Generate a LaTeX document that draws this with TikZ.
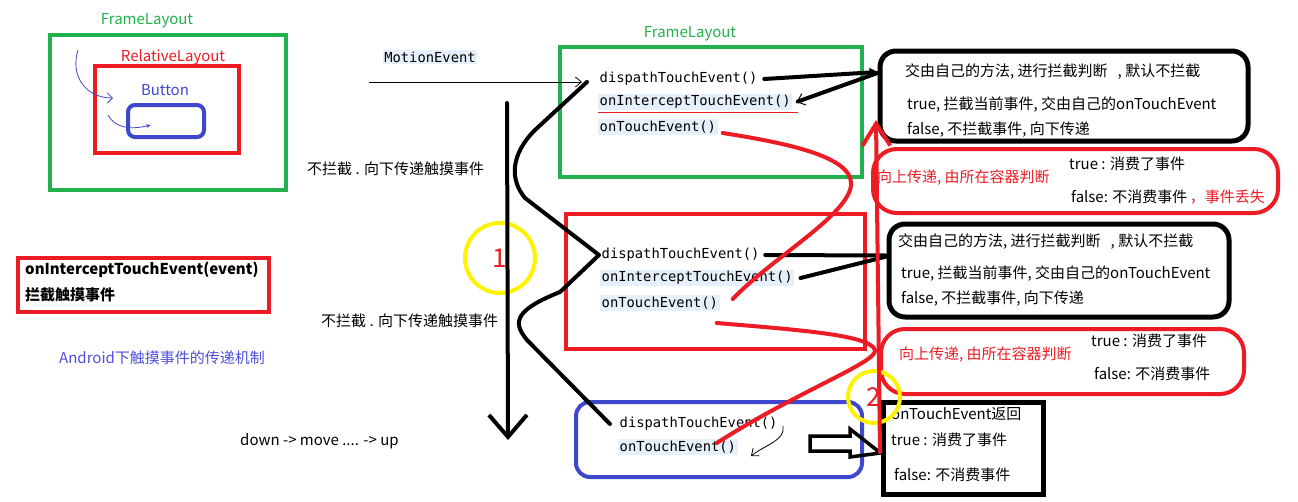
\documentclass[tikz,border=0pt]{standalone}
\usepackage{fontspec}
\setmainfont{Noto Sans CJK SC}
\setmonofont{DejaVu Sans Mono}
\usetikzlibrary{arrows.meta}

\definecolor{paintgreen}{HTML}{22B14C}
\definecolor{paintred}{HTML}{ED1C24}
\definecolor{paintblue}{HTML}{3F48CC}
\definecolor{paintyellow}{HTML}{FFF200}
\definecolor{codebg}{HTML}{E5F0FB}
\definecolor{textblue}{HTML}{5050DD}

\begin{document}
\begin{tikzpicture}[
  x=1pt, y=-1pt,
  frame/.style={draw, line width=4pt, inner sep=0pt},
  code/.style={font=\ttfamily\fontsize{13.8}{16}\selectfont, anchor=west, inner sep=1.5pt},
  hl/.style={code, fill=codebg},
  note/.style={font=\fontsize{15}{17}\selectfont, anchor=west, inner sep=0pt},
  tag/.style={font=\fontsize{15}{17}\selectfont, inner sep=0pt},
  pen/.style={line width=4pt, line cap=round, line join=round},
  redpen/.style={pen, draw=paintred},
  scrib/.style={line width=0.8pt, -{Straight Barb[length=6pt, width=10pt]}},
  ring/.style={circle, draw=paintyellow, line width=4pt, inner sep=0pt,
               text=paintred, font=\fontsize{26}{28}\selectfont},
]
  \path[use as bounding box, fill=white] (0,0) rectangle (1298,501);

  % view hierarchy
  \node[frame, draw=paintgreen, minimum width=236, minimum height=155] (outer) at (168,112.5) {};
  \node[frame, draw=paintred, minimum width=144, minimum height=87] (rel) at (167,109.5) {};
  \node[frame, draw=paintblue, rounded corners=7pt, minimum width=76, minimum height=32] (btn) at (166,121) {};
  \node[tag, text=paintgreen] (lblouter) at (147,21) {FrameLayout};
  \node[tag, text=paintred] (lblrel) at (173,57) {RelativeLayout};
  \node[tag, text=paintblue] (lblbtn) at (165,90) {Button};
  \draw[draw=paintblue, line width=0.8pt, -{Straight Barb[length=5pt, width=10pt]}]
    ([shift={(30,17)}]outer.north west) .. controls (70,75) and (85,98) .. ([shift={(20,34)}]rel.north west);
  \draw[draw=paintblue, line width=0.8pt, -{Stealth[length=5pt]}]
    ([shift={(15,51)}]rel.north west) .. controls (115,128) and (130,130) .. ([shift={(25,4)}]btn.west);

  \node[code, fill=codebg, anchor=center] (motion) at (430,57) {MotionEvent};
  \coordinate (mstart) at (369,82);

  % containers
  \node[frame, draw=paintgreen, minimum width=302, minimum height=130] (frm) at (711,112) {};
  \node[tag, text=paintgreen] (lblfrm) at (690,34) {FrameLayout};
  \node[code] (g1) at (598,79) {dispathTouchEvent()};
  \node[hl] (g2) at (598,102) {onInterceptTouchEvent()};
  \node[hl] (g3) at (598,127) {onTouchEvent()};
  \draw[paintred, line width=1pt] ([yshift=-2pt]g2.south west) -- ([shift={(5pt,-2pt)}]g2.south east);

  \node[frame, draw=paintred, minimum width=299, minimum height=135] (rbox) at (715.5,281.5) {};
  \node[code] (r1) at (600,255) {dispathTouchEvent()};
  \node[hl] (r2) at (600,278) {onInterceptTouchEvent()};
  \node[hl] (r3) at (600,303) {onTouchEvent()};

  \node[frame, draw=paintblue, rounded corners=14pt, minimum width=286, minimum height=75] (bbox) at (719,439.5) {};
  \node[code] (b1) at (618,424) {dispathTouchEvent()};
  \node[hl] (b2) at (618,447) {onTouchEvent()};

  % explanations
  \node[frame, rounded corners=16pt, line width=5pt, minimum width=368, minimum height=90] (judge1) at (1064,96) {};
  \node[note] (j1a) at (905,72) {交由自己的方法, 进行拦截判断\hspace{10pt}, 默认不拦截};
  \node[note] (j1b) at (907,105) {true, 拦截当前事件, 交由自己的onTouchEvent};
  \node[note] (j1c) at (907,130) {false, 不拦截事件, 向下传递};

  \node[frame, draw=paintred, rounded corners=24pt, minimum width=405, minimum height=64] (up1) at (1075.5,181) {};
  \node[note, text=paintred] (u1a) at (877,178) {向上传递, 由所在容器判断};
  \node[note] (u1b) at (1069,164) {true : 消费了事件};
  \node[note] (u1c) at (1071,197) {false: 不消费事件};
  \node[note, text=paintred, anchor=south west] (u1d) at ([xshift=2pt]u1c.south east) {，事件丢失};

  \node[frame, rounded corners=16pt, line width=5pt, minimum width=340, minimum height=93] (judge2) at (1059,270.5) {};
  \node[note] (j2a) at (898,242) {交由自己的方法, 进行拦截判断\hspace{10pt}, 默认不拦截};
  \node[note] (j2b) at (901,274) {true, 拦截当前事件, 交由自己的onTouchEvent};
  \node[note] (j2c) at (901,299) {false, 不拦截事件, 向下传递};

  \node[frame, draw=paintred, rounded corners=24pt, minimum width=363, minimum height=65] (up2) at (1062.5,361.5) {};
  \node[note, text=paintred] (u2a) at (899,355) {向上传递, 由所在容器判断};
  \node[note] (u2b) at (1091,341) {true : 消费了事件};
  \node[note] (u2c) at (1094,374) {false: 不消费事件};

  \node[frame, line width=5pt, minimum width=160, minimum height=92] (ret) at (963,448) {};
  \node[note] (t1) at (891,414) {onTouchEvent返回};
  \node[note] (t2) at (891,440) {true : 消费了事件};
  \node[note] (t3) at (894,475) {false: 不消费事件};

  % left notes
  \node[frame, draw=paintred, minimum width=251, minimum height=54] (legend) at (143.5,285) {};
  \node[note, font=\bfseries\fontsize{15}{17}\selectfont] (leg1) at (25,270) {onInterceptTouchEvent(event)};
  \node[note, font=\bfseries\fontsize{15}{17}\selectfont] (leg2) at (25,295) {拦截触摸事件};
  \node[note, text=textblue] (android) at (59,358) {Android下触摸事件的传递机制};
  \node[note] (seq) at (240,441) {down -> move .... -> up};
  \node[note] (pass1) at (307,169) {不拦截 . 向下传递触摸事件};
  \node[note] (pass2) at (321,321) {不拦截 . 向下传递触摸事件};

  \node[ring, minimum size=70] (one) at (500,258) {1};
  \node[ring, minimum size=52] (two) at (874,397) {2};

  % dispatch down
  \draw[line width=0.8pt, -{Straight Barb[length=6pt, width=10pt]}] (mstart) -- ([xshift=-16pt, yshift=-3pt]g1.west);
  \coordinate (vtop) at (507,103);
  \coordinate (vbot) at (508,440);
  \draw[pen, -{Straight Barb[length=22pt, width=38pt]}] (vtop) -- (vbot);
  \draw[pen] ([xshift=-11pt, yshift=-3pt]g1.west) -- (535,130) .. controls (510,155) and (510,180) .. (525,198)
    -- ([xshift=-1pt]r1.west) -- (560,292) .. controls (515,310) and (512,322) .. (527,340)
    -- ([xshift=-8pt]b1.west);

  \draw[pen, -{Triangle[length=8pt, width=9pt]}] ([xshift=5pt]g1.east) -- ([yshift=24pt]judge1.west);
  \draw[pen, -{Straight Barb[length=7pt, width=12pt, line width=1pt]}] ([yshift=23pt]judge1.west) -- ([xshift=4pt]g2.east);
  \draw[pen] ([xshift=4pt]r1.east) -- ([yshift=15pt]judge2.west);
  \draw[pen] ([xshift=6pt]r2.east) -- ([yshift=14pt]judge2.west);

  % hollow push arrow into the result box
  \draw[line width=3.5pt, line join=miter]
    (810,436) -- (850,436) -- (850,429) -- ([yshift=-5pt]ret.west) -- (850,457) -- (850,451) -- (810,451) -- cycle;
  \coordinate (scribble) at (783,426);
  \draw[scrib] (scribble) .. controls (786,440) and (765,445) .. (751,456);

  % return up
  \draw[redpen] ([shift={(5,6)}]g3.east) .. controls (800,145) and (860,160) .. (850,190)
    .. controls (840,220) and (770,260) .. ([shift={(13,-4)}]r3.east);
  \draw[redpen] ([shift={(-3,20)}]r3.east) .. controls (800,330) and (870,335) .. (875,350)
    .. controls (878,362) and (800,390) .. ([xshift=-21pt, yshift=4pt]b2.east);
  \coordinate (upfoot) at (880,452);
  \coordinate (uphead) at (876,120);
  \draw[redpen, -{Straight Barb[length=22pt, width=28pt]}] (upfoot) -- (uphead);
\end{tikzpicture}
\end{document}
